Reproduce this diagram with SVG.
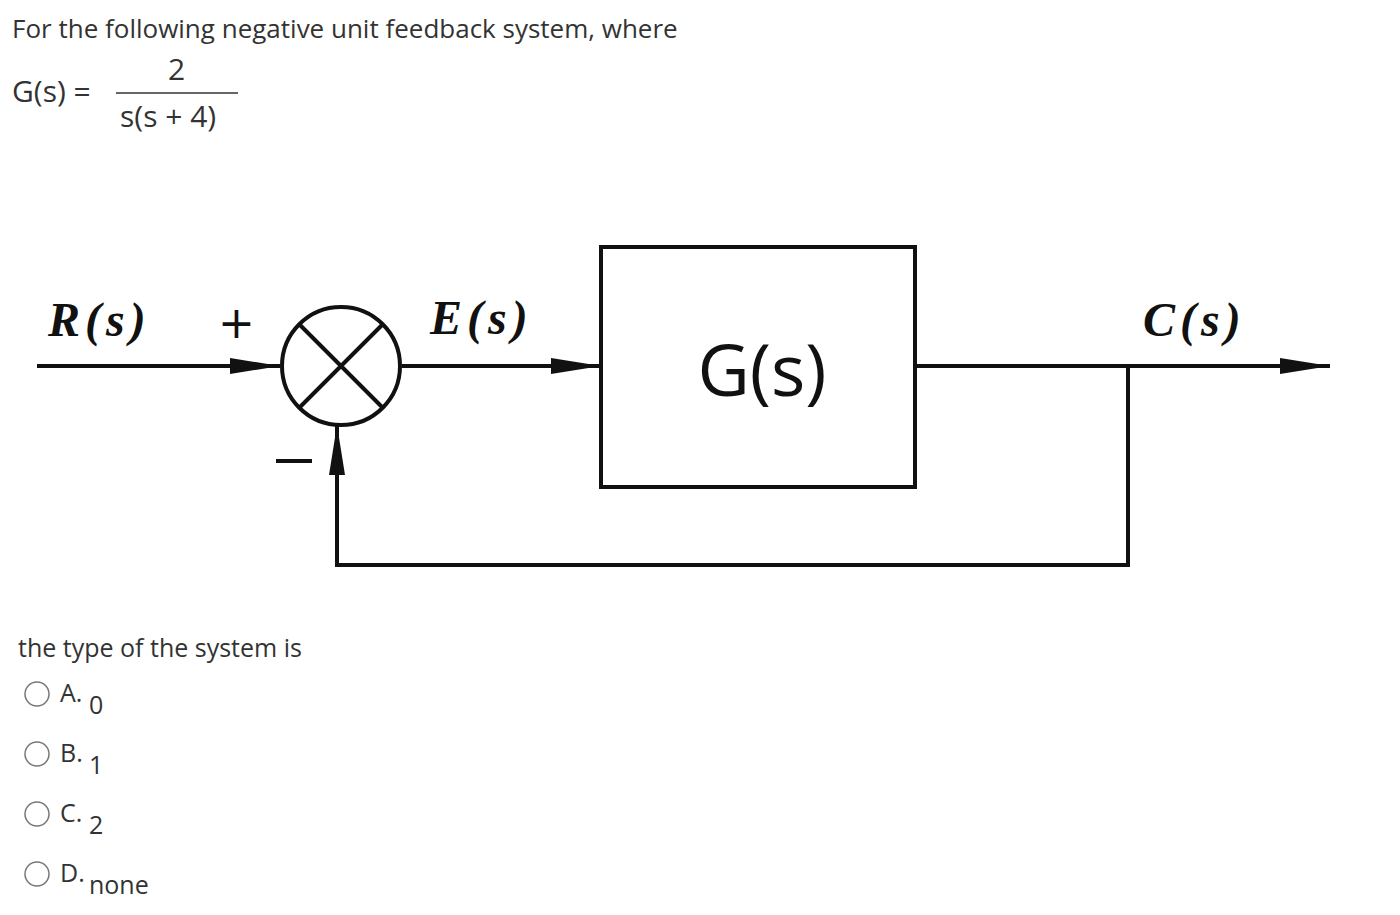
<svg xmlns="http://www.w3.org/2000/svg" width="1400" height="915" viewBox="0 0 1400 915">
<style>
.t{font-family:"Open Sans",sans-serif;font-size:25px;fill:#333}
.f{font-family:"Open Sans",sans-serif;font-size:30px;fill:#333}
.d{font-family:"Liberation Serif",serif;font-style:italic;font-weight:bold;font-size:48px;fill:#111;letter-spacing:5px}
.l{stroke:#111;stroke-width:4;fill:none}
.r{fill:#fff;stroke:#777;stroke-width:1.5}
</style>
<defs>
<marker id="b" viewBox="0 0 50 20" refX="50" refY="10" markerWidth="50" markerHeight="20" orient="auto" markerUnits="userSpaceOnUse"><path d="M0,2 L50,10 L0,18 Z" fill="#111"/></marker></defs>
<rect width="1400" height="915" fill="#fff"/>
<text class="t" x="12" y="38" style="font-size:26px">For the following negative unit feedback system, where</text>
<text class="f" x="12" y="102">G(s) =</text>
<text class="f" x="168" y="80">2</text>
<line x1="116" y1="93" x2="238" y2="93" stroke="#333" stroke-width="1.5"/>
<text class="f" x="120" y="127">s(s + 4)</text>
<g id="connectors">
<path class="l" d="M37,366 H280" marker-end="url(#b)"/>
<path class="l" d="M402,366 H601" marker-end="url(#b)"/>
<path class="l" d="M915,366 H1330" marker-end="url(#b)"/>
<path class="l" d="M1128,366 V565 H337 V425" marker-end="url(#b)"/>
</g>
<g id="sum"><circle class="l" cx="341" cy="366" r="59" stroke-width="5"/>
<path class="l" stroke-width="5" d="M299,324 L383,408 M383,324 L299,408"/></g>
<g id="G"><rect class="l" x="601" y="247" width="314" height="240"/>
<text x="762" y="396" text-anchor="middle" font-family="Open Sans,sans-serif" font-size="72" fill="#111">G(s)</text></g>
<text class="d" x="48" y="336">R(s)</text>
<text x="218" y="338" font-family="DejaVu Sans,sans-serif" font-size="44" fill="#111">+</text>
<line x1="276" y1="461" x2="312" y2="461" stroke="#111" stroke-width="4"/>
<text class="d" x="430" y="334">E(s)</text>
<text class="d" x="1143" y="336">C(s)</text>
<text class="t" x="18" y="657">the type of the system is</text>
<g>
<circle class="r" cx="37" cy="694" r="12"/><text class="t" x="60" y="702">A.</text><text class="t" x="89" y="714">0</text>
<circle class="r" cx="37" cy="754" r="12"/><text class="t" x="60" y="762">B.</text><text class="t" x="89" y="774">1</text>
<circle class="r" cx="37" cy="814" r="12"/><text class="t" x="60" y="822">C.</text><text class="t" x="89" y="834">2</text>
<circle class="r" cx="37" cy="874" r="12"/><text class="t" x="60" y="882">D.</text><text class="t" x="89" y="894">none</text>
</g>
</svg>
